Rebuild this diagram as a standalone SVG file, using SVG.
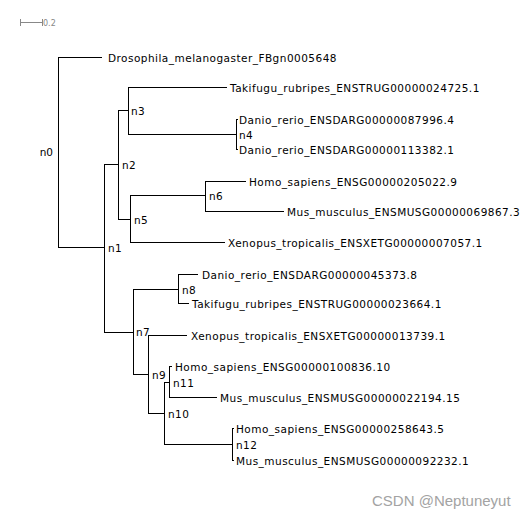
<svg xmlns="http://www.w3.org/2000/svg" width="529" height="518" viewBox="0 0 529 518">
<style>
  text { font-family: "DejaVu Sans", Verdana, sans-serif; font-size: 10.5px; letter-spacing: 0.47px; fill: #000; }
  .edge { stroke: #000; stroke-width: 1; fill: none; shape-rendering: crispEdges; }
  .scale { stroke: #888; stroke-width: 1; fill: none; shape-rendering: crispEdges; }
  .scaletxt { font-size: 8px; letter-spacing: 0; fill: #888; }
  .wm { font-family: "Liberation Sans", Arial, sans-serif; font-size: 15px; letter-spacing: 0; fill: #a3a3a3; }
</style>
<rect width="529" height="518" fill="#fff"/>
<g id="scale-bar">
  <path class="scale" d="M20.5 22.5 H42.5 M20.5 19 V26 M42.5 19 V26"/>
  <text class="scaletxt" x="43" y="26">0.2</text>
</g>
<g id="connectors">
  <path class="edge" d="
    M58.5 57 V247.5
    M104.5 164 V332.5
    M118.5 110 V219.5
    M128.5 87 V134.5
    M236.5 119 V149.5
    M130.5 195 V242.5
    M205.5 181 V211.5
    M133.5 289 V374.5
    M178.5 274 V303.5
    M148.5 335 V413.5
    M164.5 382 V444.5
    M169.5 366 V397.5
    M232.5 428 V460.5
    M58 57.5 H102
    M58 247.5 H104
    M104 164.5 H118
    M118 110.5 H128
    M128 87.5 H227
    M128 134.5 H236
    M236 119.5 H238
    M236 149.5 H238
    M118 219.5 H130
    M130 195.5 H205
    M205 181.5 H246
    M205 211.5 H284
    M130 242.5 H225
    M104 332.5 H133
    M133 289.5 H178
    M178 274.5 H198
    M178 303.5 H189
    M133 374.5 H148
    M148 335.5 H187
    M148 413.5 H164
    M164 382.5 H169
    M169 366.5 H172
    M169 397.5 H217
    M164 444.5 H232
    M232 428.5 H234
    M232 460.5 H234"/>
</g>
<g id="n0"><text x="53" y="156" text-anchor="end" style="letter-spacing:0">n0</text></g>
<g id="leaf-drosophila"><text x="108" y="61.5">Drosophila_melanogaster_FBgn0005648</text></g>
<g id="n1"><text x="108" y="252">n1</text></g>
<g id="n2"><text x="122" y="169">n2</text></g>
<g id="n3"><text x="131" y="115">n3</text></g>
<g id="leaf-takifugu-1"><text x="230" y="91.5">Takifugu_rubripes_ENSTRUG00000024725.1</text></g>
<g id="n4"><text x="239" y="138.5">n4</text></g>
<g id="leaf-danio-1"><text x="239" y="123.5">Danio_rerio_ENSDARG00000087996.4</text></g>
<g id="leaf-danio-2"><text x="239" y="153.5">Danio_rerio_ENSDARG00000113382.1</text></g>
<g id="n5"><text x="134" y="224">n5</text></g>
<g id="n6"><text x="209" y="200">n6</text></g>
<g id="leaf-homo-1"><text x="249" y="185.5">Homo_sapiens_ENSG00000205022.9</text></g>
<g id="leaf-mus-1"><text x="287" y="215.5">Mus_musculus_ENSMUSG00000069867.3</text></g>
<g id="leaf-xenopus-1"><text x="228" y="246.5">Xenopus_tropicalis_ENSXETG00000007057.1</text></g>
<g id="n7"><text x="136" y="336">n7</text></g>
<g id="n8"><text x="182" y="293.5">n8</text></g>
<g id="leaf-danio-3"><text x="202" y="278.5">Danio_rerio_ENSDARG00000045373.8</text></g>
<g id="leaf-takifugu-2"><text x="192" y="307.5">Takifugu_rubripes_ENSTRUG00000023664.1</text></g>
<g id="leaf-xenopus-2"><text x="191" y="339.5">Xenopus_tropicalis_ENSXETG00000013739.1</text></g>
<g id="n9"><text x="152" y="378.5">n9</text></g>
<g id="n10"><text x="168" y="418">n10</text></g>
<g id="n11"><text x="173" y="387">n11</text></g>
<g id="leaf-homo-2"><text x="175" y="370.5">Homo_sapiens_ENSG00000100836.10</text></g>
<g id="leaf-mus-2"><text x="220" y="401.5">Mus_musculus_ENSMUSG00000022194.15</text></g>
<g id="n12"><text x="236" y="448.5">n12</text></g>
<g id="leaf-homo-3"><text x="236" y="432.5">Homo_sapiens_ENSG00000258643.5</text></g>
<g id="leaf-mus-3"><text x="236" y="464.5">Mus_musculus_ENSMUSG00000092232.1</text></g>
<g id="watermark"><text class="wm" x="372" y="506">CSDN @Neptuneyut</text></g>
</svg>
